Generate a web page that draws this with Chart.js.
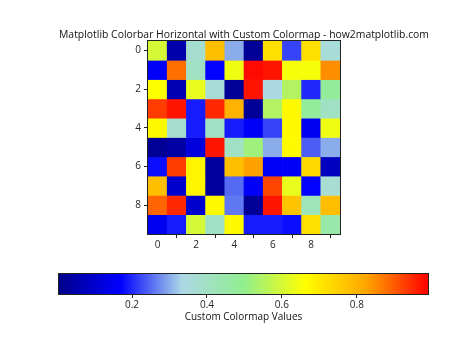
<!DOCTYPE html>
<html>
<head>
<meta charset="utf-8">
<script src="https://cdn.jsdelivr.net/npm/chart.js@4.4.1/dist/chart.umd.min.js"></script>
<style>
  html, body { margin: 0; padding: 0; background: #fff; }
  body { width: 474px; height: 355px; position: relative; overflow: hidden; }
  canvas { position: absolute; left: 0; }
  #heat { top: 0; }
  #cbar { top: 260px; }
</style>
</head>
<body>
<canvas id="heat" width="474" height="260"></canvas>
<canvas id="cbar" width="474" height="95"></canvas>
<script>
// ---- data ----
const row0 = [0.60, 0.05, 0.38, 0.78, 0.30, 0.02, 0.72, 0.22, 0.72, 0.36];
const row1 = [0.16, 0.88, 0.40, 0.17, 0.64, 0.98, 0.97, 0.65, 0.65, 0.85];
const row2 = [0.66, 0.06, 0.63, 0.36, 0.02, 0.97, 0.34, 0.55, 0.20, 0.48];
const row3 = [0.93, 0.97, 0.19, 0.95, 0.80, 0.02, 0.55, 0.67, 0.48, 0.40];
const row4 = [0.67, 0.38, 0.19, 0.40, 0.19, 0.16, 0.22, 0.67, 0.15, 0.64];
const row5 = [0.02, 0.04, 0.12, 0.97, 0.40, 0.52, 0.30, 0.67, 0.24, 0.30];
const row6 = [0.18, 0.93, 0.68, 0.03, 0.78, 0.83, 0.16, 0.16, 0.73, 0.08];
const row7 = [0.78, 0.10, 0.68, 0.03, 0.25, 0.16, 0.92, 0.63, 0.17, 0.37];
const row8 = [0.89, 0.95, 0.10, 0.67, 0.26, 0.02, 0.97, 0.77, 0.42, 0.78];
const row9 = [0.15, 0.19, 0.60, 0.40, 0.67, 0.19, 0.19, 0.18, 0.72, 0.45];
const rows = [row0, row1, row2, row3, row4, row5, row6, row7, row8, row9];

const columns = [0, 1, 2, 3, 4, 5, 6, 7, 8, 9];
const axisTicks = [0, 2, 4, 6, 8];
const cbarTicks = [0.2, 0.4, 0.6, 0.8];
const vmin = 0.005;
const vmax = 0.99;

const titleText = 'Matplotlib Colorbar Horizontal with Custom Colormap - how2matplotlib.com';
const cbarLabel = 'Custom Colormap Values';

// custom colormap: darkblue, blue, lightblue, lightgreen, yellow, orange, red
const cmapColors = ['#00008B', '#0000FF', '#ADD8E6', '#90EE90', '#FFFF00', '#FFA500', '#FF0000'];

function hexToRgb(h) {
  return [parseInt(h.slice(1, 3), 16), parseInt(h.slice(3, 5), 16), parseInt(h.slice(5, 7), 16)];
}
const cmapRgb = cmapColors.map(hexToRgb);
function cmap(v) {
  let t = (v - vmin) / (vmax - vmin);
  t = Math.max(0, Math.min(1, t));
  const n = cmapRgb.length - 1;
  const p = t * n;
  const i = Math.min(Math.floor(p), n - 1);
  const f = p - i;
  const a = cmapRgb[i], b = cmapRgb[i + 1];
  const c = a.map((x, k) => Math.round(x + (b[k] - x) * f));
  return `rgb(${c[0]},${c[1]},${c[2]})`;
}

const FONT = "'Open Sans', 'Noto Sans', sans-serif";
const TEXT = '#262626';

const framePlugin = {
  id: 'frame',
  afterDatasetsDraw(chart) {
    const a = chart.chartArea, ctx = chart.ctx;
    ctx.save();
    ctx.strokeStyle = '#222';
    ctx.lineWidth = 1;
    ctx.strokeRect(Math.round(a.left) - 0.5, Math.round(a.top) - 0.5,
                   Math.round(a.right - a.left) + 1, Math.round(a.bottom - a.top) + 1);
    ctx.restore();
  }
};

// ---- heatmap ----
const datasets = rows.map((vals, r) => ({
  data: columns.map(c => ({ x: c, y: [r - 0.5, r + 0.5] })),
  backgroundColor: vals.map(cmap),
  borderWidth: 0,
  barPercentage: 1,
  categoryPercentage: 1,
  grouped: false
}));

new Chart(document.getElementById('heat'), {
  type: 'bar',
  data: { datasets },
  options: {
    responsive: false,
    animation: false,
    events: [],
    layout: { padding: { left: 14, right: 0, top: 0, bottom: 0 } },
    plugins: {
      legend: { display: false },
      tooltip: { enabled: false },
      title: {
        display: true,
        text: titleText,
        color: '#111',
        font: { family: FONT, size: 10.4, weight: 'normal' },
        padding: { top: 28.5, bottom: 0 }
      }
    },
    scales: {
      x: {
        type: 'linear',
        min: -0.5, max: 9.5,
        offset: false,
        grid: { drawOnChartArea: false, drawTicks: true, tickLength: 4, color: '#222' },
        border: { display: false },
        afterBuildTicks: s => { s.ticks = axisTicks.map(v => ({ value: v })); },
        afterFit: s => { s.height = 26; },
        ticks: { color: TEXT, font: { family: FONT, size: 10 }, padding: 1, maxRotation: 0, autoSkip: false,
                 callback: v => String(v) }
      },
      y: {
        type: 'linear',
        reverse: true,
        min: -0.5, max: 9.5,
        grid: { drawOnChartArea: false, drawTicks: true, tickLength: 4, color: '#222' },
        border: { display: false },
        afterBuildTicks: s => { s.ticks = axisTicks.map(v => ({ value: v })); },
        afterFit: s => { s.width = 134; },
        ticks: { color: TEXT, font: { family: FONT, size: 10 }, padding: 3, autoSkip: false,
                 callback: v => String(v) }
      },
      yRight: {
        type: 'linear',
        position: 'right',
        min: 0, max: 1,
        grid: { display: false, drawTicks: false },
        border: { display: false },
        ticks: { display: false },
        afterFit: s => { s.width = 134; }
      }
    }
  },
  plugins: [framePlugin]
});

// ---- colorbar ----
const gradientPlugin = {
  id: 'cbarGradient',
  beforeDatasetsDraw(chart) {
    const a = chart.chartArea, ctx = chart.ctx, xs = chart.scales.x;
    const x0 = xs.getPixelForValue(vmin), x1 = xs.getPixelForValue(vmax);
    const g = ctx.createLinearGradient(x0, 0, x1, 0);
    cmapColors.forEach((c, i) => g.addColorStop(i / (cmapColors.length - 1), c));
    ctx.save();
    ctx.fillStyle = g;
    ctx.fillRect(x0, a.top, x1 - x0, a.bottom - a.top);
    ctx.restore();
  }
};

new Chart(document.getElementById('cbar'), {
  type: 'bar',
  data: { datasets: [{ data: [] }] },
  options: {
    responsive: false,
    animation: false,
    events: [],
    layout: { padding: { left: 59, right: 46, top: 14, bottom: 32 } },
    plugins: { legend: { display: false }, tooltip: { enabled: false }, title: { display: false } },
    scales: {
      x: {
        type: 'linear',
        min: vmin, max: vmax,
        offset: false,
        grid: { drawOnChartArea: false, drawTicks: true, tickLength: 4, color: '#222', offset: false },
        border: { display: false },
        afterBuildTicks: s => { s.ticks = cbarTicks.map(v => ({ value: v })); },
        afterFit: s => { s.height = 29; },
        ticks: { color: TEXT, font: { family: FONT, size: 10 }, padding: 1, maxRotation: 0, autoSkip: false,
                 callback: v => v.toFixed(1) },
        title: { display: true, text: cbarLabel, color: '#111', font: { family: FONT, size: 10 }, padding: { top: 2, bottom: 0 } }
      },
      y: { display: false, min: 0, max: 1 }
    }
  },
  plugins: [gradientPlugin, framePlugin]
});
</script>
</body>
</html>
